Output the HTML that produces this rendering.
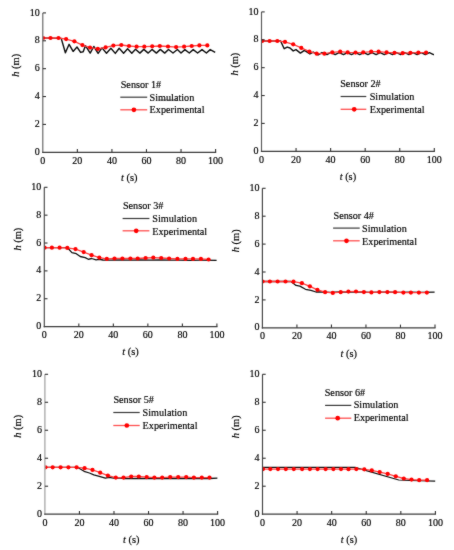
<!DOCTYPE html>
<html><head><meta charset="utf-8"><title>Sensor water depth comparison</title>
<style>
html,body{margin:0;padding:0;background:#fff;}
body{width:454px;height:550px;overflow:hidden;}
svg{display:block;}
text{font-family:"Liberation Serif","Times New Roman",serif;fill:#000;stroke:#000;stroke-width:0.16px;}
.tk{font-size:10px;}
.lg{font-size:10.2px;}
.lb{font-size:10.4px;}
</style></head><body>
<svg width="454" height="550" viewBox="0 0 454 550">
<defs><filter id="soft" x="0" y="0" width="454" height="550" filterUnits="userSpaceOnUse" color-interpolation-filters="sRGB"><feConvolveMatrix order="3" kernelMatrix="1 2 1 2 28 2 1 2 1" edgeMode="duplicate"/></filter></defs>
<g filter="url(#soft)">
<rect width="454" height="550" fill="#fff"/>
<g id="panel1">
<clipPath id="cp1"><rect x="43.25" y="4.9" width="180.8" height="147.4"/></clipPath>
<g clip-path="url(#cp1)">
<polyline fill="none" stroke="#111" stroke-width="1.45" stroke-linejoin="round" points="42.7,38 61.2,38.4 65.4,52.7 69.1,44.3 73.1,51.4 77,47 80.6,52.4 83.2,51.8 85.4,45.7 90.2,53.1 93.8,46.5 98.1,53.4 102,47.9 106.5,53.2 110.9,48.3 115.3,53.4 119.2,48.3 123.6,53.2 127.6,48.8 131.8,53.2 135.5,49.3 139.9,53.1 143.8,49.4 148.2,53.1 152,49.4 156.4,53.1 160.3,49.4 164.7,53.1 168.5,49.5 173,53 177.4,49.5 181,53 184.9,49.6 189.3,53 193.2,49.6 197.6,53 202,49.6 206.4,53 210.2,49.6 215.2,52.3"/>
<polyline fill="none" stroke="#ff4040" stroke-width="1.3" points="43.1,38 50.5,38 58.5,38 66.1,39.1 74.4,41.3 82.4,45.1 90,47.6 97.8,48.9 105.6,47.4 113.4,45.6 121.3,45 129,46 136.6,46.7 144.3,46.7 152.2,46.3 159.8,46 168,46.5 176.1,47.1 184.1,46.7 191.7,46 199.4,45.4 207.3,45.4"/>
<circle cx="43.1" cy="38" r="2.1" fill="#ff0000"/><circle cx="50.5" cy="38" r="2.1" fill="#ff0000"/><circle cx="58.5" cy="38" r="2.1" fill="#ff0000"/><circle cx="66.1" cy="39.1" r="2.1" fill="#ff0000"/><circle cx="74.4" cy="41.3" r="2.1" fill="#ff0000"/><circle cx="82.4" cy="45.1" r="2.1" fill="#ff0000"/><circle cx="90" cy="47.6" r="2.1" fill="#ff0000"/><circle cx="97.8" cy="48.9" r="2.1" fill="#ff0000"/><circle cx="105.6" cy="47.4" r="2.1" fill="#ff0000"/><circle cx="113.4" cy="45.6" r="2.1" fill="#ff0000"/><circle cx="121.3" cy="45" r="2.1" fill="#ff0000"/><circle cx="129" cy="46" r="2.1" fill="#ff0000"/><circle cx="136.6" cy="46.7" r="2.1" fill="#ff0000"/><circle cx="144.3" cy="46.7" r="2.1" fill="#ff0000"/><circle cx="152.2" cy="46.3" r="2.1" fill="#ff0000"/><circle cx="159.8" cy="46" r="2.1" fill="#ff0000"/><circle cx="168" cy="46.5" r="2.1" fill="#ff0000"/><circle cx="176.1" cy="47.1" r="2.1" fill="#ff0000"/><circle cx="184.1" cy="46.7" r="2.1" fill="#ff0000"/><circle cx="191.7" cy="46" r="2.1" fill="#ff0000"/><circle cx="199.4" cy="45.4" r="2.1" fill="#ff0000"/><circle cx="207.3" cy="45.4" r="2.1" fill="#ff0000"/>
</g>
<line x1="42.8" y1="12.9" x2="42.8" y2="153" stroke="#626262" stroke-width="1.15"/>
<line x1="42.2" y1="152.3" x2="216.2" y2="152.3" stroke="#3c3c3c" stroke-width="1.2"/>
<line x1="42.8" y1="124.42" x2="46" y2="124.42" stroke="#333" stroke-width="1.1"/><line x1="42.8" y1="96.54" x2="46" y2="96.54" stroke="#333" stroke-width="1.1"/><line x1="42.8" y1="68.66" x2="46" y2="68.66" stroke="#333" stroke-width="1.1"/><line x1="42.8" y1="40.78" x2="46" y2="40.78" stroke="#333" stroke-width="1.1"/><line x1="42.8" y1="12.9" x2="46" y2="12.9" stroke="#333" stroke-width="1.1"/><line x1="77.36" y1="152.3" x2="77.36" y2="149.1" stroke="#333" stroke-width="1.1"/><line x1="111.92" y1="152.3" x2="111.92" y2="149.1" stroke="#333" stroke-width="1.1"/><line x1="146.48" y1="152.3" x2="146.48" y2="149.1" stroke="#333" stroke-width="1.1"/><line x1="181.04" y1="152.3" x2="181.04" y2="149.1" stroke="#333" stroke-width="1.1"/><line x1="215.6" y1="152.3" x2="215.6" y2="149.1" stroke="#333" stroke-width="1.1"/>
<text class="tk" x="39.8" y="154.9" text-anchor="end">0</text><text class="tk" x="39.8" y="127.02" text-anchor="end">2</text><text class="tk" x="39.8" y="99.14" text-anchor="end">4</text><text class="tk" x="39.8" y="71.26" text-anchor="end">6</text><text class="tk" x="39.8" y="43.38" text-anchor="end">8</text><text class="tk" x="39.8" y="15.5" text-anchor="end">10</text><text class="tk" x="42.8" y="163.7" text-anchor="middle">0</text><text class="tk" x="77.36" y="163.7" text-anchor="middle">20</text><text class="tk" x="111.92" y="163.7" text-anchor="middle">40</text><text class="tk" x="146.48" y="163.7" text-anchor="middle">60</text><text class="tk" x="181.04" y="163.7" text-anchor="middle">80</text><text class="tk" x="215.6" y="163.7" text-anchor="middle">100</text>
<text class="lb" transform="translate(19,65.3) rotate(-90)" text-anchor="middle"><tspan font-style="italic">h</tspan> (m)</text>
<text class="lb" x="129.2" y="181" text-anchor="middle"><tspan font-style="italic">t</tspan> (s)</text>
<text class="lg" x="120.7" y="87.7">Sensor 1#</text>
<line x1="120.3" y1="97.2" x2="147.2" y2="97.2" stroke="#3a3a3a" stroke-width="1.2"/>
<text class="lg" x="149.6" y="100.5">Simulation</text>
<line x1="120.3" y1="109.8" x2="147.2" y2="109.8" stroke="#ff5050" stroke-width="1.3"/>
<circle cx="133.9" cy="109.8" r="2.35" fill="#ff0000"/>
<text class="lg" x="149.6" y="113">Experimental</text>
<line x1="158.6" y1="100" x2="176.5" y2="100" stroke="#333" stroke-width="0.8"/>
</g>
<g id="panel2">
<clipPath id="cp2"><rect x="261.95" y="3.9" width="180.8" height="147.4"/></clipPath>
<g clip-path="url(#cp2)">
<polyline fill="none" stroke="#111" stroke-width="1.45" stroke-linejoin="round" points="261.4,41 280.6,41 284.2,48.7 287.2,47.1 290,48 293.2,50.9 296,49.6 300.4,53.1 304.4,50.4 309.9,53.9 313.2,52.1 318.2,54.8 322,52.6 327,54.6 330.8,52.4 335.2,54.6 339.1,52.6 343.5,54.6 347.4,52.6 351.5,54.6 355.6,52.7 359.7,54.6 363.8,52.7 367.9,54.6 372,52.7 376.1,54.6 380.2,52.7 384.3,54.6 388.4,52.7 392.5,54.6 396.6,52.7 400.7,54.6 404.8,52.7 408.9,54.6 413,52.7 417.1,54.6 421.2,52.7 425.3,54.6 429.4,52.7 433.5,54.6 434,54.5"/>
<polyline fill="none" stroke="#ff4040" stroke-width="1.3" points="262.2,41 269.6,41 277.3,41 285,41.9 293.2,44.3 301.3,47.9 309.4,51.6 316.7,53.7 324.4,53.7 332.3,52.4 340.2,51.7 347.7,52.4 355.5,52.6 363.2,52.4 371.2,51.7 378.6,51.7 386.6,52.4 394.5,52.8 402.7,53.2 410.4,52.8 418.4,52.6 426.1,52.6"/>
<circle cx="262.2" cy="41" r="2.1" fill="#ff0000"/><circle cx="269.6" cy="41" r="2.1" fill="#ff0000"/><circle cx="277.3" cy="41" r="2.1" fill="#ff0000"/><circle cx="285" cy="41.9" r="2.1" fill="#ff0000"/><circle cx="293.2" cy="44.3" r="2.1" fill="#ff0000"/><circle cx="301.3" cy="47.9" r="2.1" fill="#ff0000"/><circle cx="309.4" cy="51.6" r="2.1" fill="#ff0000"/><circle cx="316.7" cy="53.7" r="2.1" fill="#ff0000"/><circle cx="324.4" cy="53.7" r="2.1" fill="#ff0000"/><circle cx="332.3" cy="52.4" r="2.1" fill="#ff0000"/><circle cx="340.2" cy="51.7" r="2.1" fill="#ff0000"/><circle cx="347.7" cy="52.4" r="2.1" fill="#ff0000"/><circle cx="355.5" cy="52.6" r="2.1" fill="#ff0000"/><circle cx="363.2" cy="52.4" r="2.1" fill="#ff0000"/><circle cx="371.2" cy="51.7" r="2.1" fill="#ff0000"/><circle cx="378.6" cy="51.7" r="2.1" fill="#ff0000"/><circle cx="386.6" cy="52.4" r="2.1" fill="#ff0000"/><circle cx="394.5" cy="52.8" r="2.1" fill="#ff0000"/><circle cx="402.7" cy="53.2" r="2.1" fill="#ff0000"/><circle cx="410.4" cy="52.8" r="2.1" fill="#ff0000"/><circle cx="418.4" cy="52.6" r="2.1" fill="#ff0000"/><circle cx="426.1" cy="52.6" r="2.1" fill="#ff0000"/>
</g>
<line x1="261.5" y1="11.9" x2="261.5" y2="152" stroke="#5a5a5a" stroke-width="1.15"/>
<line x1="260.9" y1="151.3" x2="434.9" y2="151.3" stroke="#3c3c3c" stroke-width="1.2"/>
<line x1="261.5" y1="123.42" x2="264.7" y2="123.42" stroke="#333" stroke-width="1.1"/><line x1="261.5" y1="95.54" x2="264.7" y2="95.54" stroke="#333" stroke-width="1.1"/><line x1="261.5" y1="67.66" x2="264.7" y2="67.66" stroke="#333" stroke-width="1.1"/><line x1="261.5" y1="39.78" x2="264.7" y2="39.78" stroke="#333" stroke-width="1.1"/><line x1="261.5" y1="11.9" x2="264.7" y2="11.9" stroke="#333" stroke-width="1.1"/><line x1="296.06" y1="151.3" x2="296.06" y2="148.1" stroke="#333" stroke-width="1.1"/><line x1="330.62" y1="151.3" x2="330.62" y2="148.1" stroke="#333" stroke-width="1.1"/><line x1="365.18" y1="151.3" x2="365.18" y2="148.1" stroke="#333" stroke-width="1.1"/><line x1="399.74" y1="151.3" x2="399.74" y2="148.1" stroke="#333" stroke-width="1.1"/><line x1="434.3" y1="151.3" x2="434.3" y2="148.1" stroke="#333" stroke-width="1.1"/>
<text class="tk" x="258.5" y="153.9" text-anchor="end">0</text><text class="tk" x="258.5" y="126.02" text-anchor="end">2</text><text class="tk" x="258.5" y="98.14" text-anchor="end">4</text><text class="tk" x="258.5" y="70.26" text-anchor="end">6</text><text class="tk" x="258.5" y="42.38" text-anchor="end">8</text><text class="tk" x="258.5" y="14.5" text-anchor="end">10</text><text class="tk" x="261.5" y="162.7" text-anchor="middle">0</text><text class="tk" x="296.06" y="162.7" text-anchor="middle">20</text><text class="tk" x="330.62" y="162.7" text-anchor="middle">40</text><text class="tk" x="365.18" y="162.7" text-anchor="middle">60</text><text class="tk" x="399.74" y="162.7" text-anchor="middle">80</text><text class="tk" x="434.3" y="162.7" text-anchor="middle">100</text>
<text class="lb" transform="translate(238.1,64.2) rotate(-90)" text-anchor="middle"><tspan font-style="italic">h</tspan> (m)</text>
<text class="lb" x="347.9" y="180" text-anchor="middle"><tspan font-style="italic">t</tspan> (s)</text>
<text class="lg" x="340.2" y="86.9">Sensor 2#</text>
<line x1="340.6" y1="96.5" x2="366.3" y2="96.5" stroke="#3a3a3a" stroke-width="1.2"/>
<text class="lg" x="369.7" y="100">Simulation</text>
<line x1="340.6" y1="109.3" x2="366.3" y2="109.3" stroke="#ff5050" stroke-width="1.3"/>
<circle cx="354.2" cy="109.3" r="2.35" fill="#ff0000"/>
<text class="lg" x="369.7" y="112.5">Experimental</text>
</g>
<g id="panel3">
<clipPath id="cp3"><rect x="44.75" y="179.3" width="180.6" height="147.3"/></clipPath>
<g clip-path="url(#cp3)">
<polyline fill="none" stroke="#111" stroke-width="1.3" stroke-linejoin="round" points="44.2,247.7 67.5,247.7 71.9,252.6 76.3,253.7 80.2,256.5 85.2,257.6 88.3,259.3 91.6,258.5 96,259.8 99.3,259.3 103,260 110,260.1 120,259.8 130,260.1 140,259.9 150,260.1 160,259.9 170,260.2 180,260.1 190,260.3 200,260.2 216.6,260.4"/>
<polyline fill="none" stroke="#ff4040" stroke-width="1.3" points="44.6,247.7 51.9,247.7 59.6,247.7 67.3,247.9 75.5,249.1 83.7,252.1 91.6,255.2 99.3,257.6 106.8,258.9 114.5,258.5 122.4,258.5 130.4,258.5 137.7,258.5 145.6,258 153.3,257.6 161.2,258 169.1,258.5 177.4,258.9 185.5,258.9 193,258.9 200.9,258.9 208.6,259.5"/>
<circle cx="44.6" cy="247.7" r="2.1" fill="#ff0000"/><circle cx="51.9" cy="247.7" r="2.1" fill="#ff0000"/><circle cx="59.6" cy="247.7" r="2.1" fill="#ff0000"/><circle cx="67.3" cy="247.9" r="2.1" fill="#ff0000"/><circle cx="75.5" cy="249.1" r="2.1" fill="#ff0000"/><circle cx="83.7" cy="252.1" r="2.1" fill="#ff0000"/><circle cx="91.6" cy="255.2" r="2.1" fill="#ff0000"/><circle cx="99.3" cy="257.6" r="2.1" fill="#ff0000"/><circle cx="106.8" cy="258.9" r="2.1" fill="#ff0000"/><circle cx="114.5" cy="258.5" r="2.1" fill="#ff0000"/><circle cx="122.4" cy="258.5" r="2.1" fill="#ff0000"/><circle cx="130.4" cy="258.5" r="2.1" fill="#ff0000"/><circle cx="137.7" cy="258.5" r="2.1" fill="#ff0000"/><circle cx="145.6" cy="258" r="2.1" fill="#ff0000"/><circle cx="153.3" cy="257.6" r="2.1" fill="#ff0000"/><circle cx="161.2" cy="258" r="2.1" fill="#ff0000"/><circle cx="169.1" cy="258.5" r="2.1" fill="#ff0000"/><circle cx="177.4" cy="258.9" r="2.1" fill="#ff0000"/><circle cx="185.5" cy="258.9" r="2.1" fill="#ff0000"/><circle cx="193" cy="258.9" r="2.1" fill="#ff0000"/><circle cx="200.9" cy="258.9" r="2.1" fill="#ff0000"/><circle cx="208.6" cy="259.5" r="2.1" fill="#ff0000"/>
</g>
<line x1="44.3" y1="187.3" x2="44.3" y2="327.3" stroke="#484848" stroke-width="1.15"/>
<line x1="43.7" y1="326.6" x2="217.5" y2="326.6" stroke="#3c3c3c" stroke-width="1.2"/>
<line x1="44.3" y1="298.74" x2="47.5" y2="298.74" stroke="#333" stroke-width="1.1"/><line x1="44.3" y1="270.88" x2="47.5" y2="270.88" stroke="#333" stroke-width="1.1"/><line x1="44.3" y1="243.02" x2="47.5" y2="243.02" stroke="#333" stroke-width="1.1"/><line x1="44.3" y1="215.16" x2="47.5" y2="215.16" stroke="#333" stroke-width="1.1"/><line x1="44.3" y1="187.3" x2="47.5" y2="187.3" stroke="#333" stroke-width="1.1"/><line x1="78.82" y1="326.6" x2="78.82" y2="323.4" stroke="#333" stroke-width="1.1"/><line x1="113.34" y1="326.6" x2="113.34" y2="323.4" stroke="#333" stroke-width="1.1"/><line x1="147.86" y1="326.6" x2="147.86" y2="323.4" stroke="#333" stroke-width="1.1"/><line x1="182.38" y1="326.6" x2="182.38" y2="323.4" stroke="#333" stroke-width="1.1"/><line x1="216.9" y1="326.6" x2="216.9" y2="323.4" stroke="#333" stroke-width="1.1"/>
<text class="tk" x="41.3" y="329.2" text-anchor="end">0</text><text class="tk" x="41.3" y="301.34" text-anchor="end">2</text><text class="tk" x="41.3" y="273.48" text-anchor="end">4</text><text class="tk" x="41.3" y="245.62" text-anchor="end">6</text><text class="tk" x="41.3" y="217.76" text-anchor="end">8</text><text class="tk" x="41.3" y="189.9" text-anchor="end">10</text><text class="tk" x="44.3" y="338" text-anchor="middle">0</text><text class="tk" x="78.82" y="338" text-anchor="middle">20</text><text class="tk" x="113.34" y="338" text-anchor="middle">40</text><text class="tk" x="147.86" y="338" text-anchor="middle">60</text><text class="tk" x="182.38" y="338" text-anchor="middle">80</text><text class="tk" x="216.9" y="338" text-anchor="middle">100</text>
<text class="lb" transform="translate(21,239.1) rotate(-90)" text-anchor="middle"><tspan font-style="italic">h</tspan> (m)</text>
<text class="lb" x="130.6" y="355.3" text-anchor="middle"><tspan font-style="italic">t</tspan> (s)</text>
<text class="lg" x="122.9" y="209">Sensor 3#</text>
<line x1="122.6" y1="218.5" x2="149.4" y2="218.5" stroke="#3a3a3a" stroke-width="1.2"/>
<text class="lg" x="152.3" y="221.7">Simulation</text>
<line x1="122.6" y1="230.8" x2="149.4" y2="230.8" stroke="#ff5050" stroke-width="1.3"/>
<circle cx="136.2" cy="230.8" r="2.35" fill="#ff0000"/>
<text class="lg" x="152.3" y="234.6">Experimental</text>
</g>
<g id="panel4">
<clipPath id="cp4"><rect x="262.85" y="180.3" width="180.6" height="147.5"/></clipPath>
<g clip-path="url(#cp4)">
<polyline fill="none" stroke="#111" stroke-width="1.3" stroke-linejoin="round" points="262.4,281.5 291,281.5 296,285.4 299.9,286.1 305.5,289.3 311,290.4 316,292 322,291.8 330,292.3 340,292 350,292.2 360,292 370,292.3 380,292.1 390,292.2 400,292.3 410,292.2 420,292.3 434.6,292.1"/>
<polyline fill="none" stroke="#ff4040" stroke-width="1.3" points="262.6,281.5 269.9,281.5 277.6,281.5 285.5,281.5 293.5,281.7 301.9,283.2 309.9,286.3 317.4,289.8 325.1,292.2 332.8,292.9 340.7,292.2 348.4,291.6 356,291.5 363.9,292.1 371.4,292.4 379.4,292.1 387.4,292.1 395.1,292.2 403.4,292.6 410.9,292.6 418.9,292.6 426.9,292.6"/>
<circle cx="262.6" cy="281.5" r="2.1" fill="#ff0000"/><circle cx="269.9" cy="281.5" r="2.1" fill="#ff0000"/><circle cx="277.6" cy="281.5" r="2.1" fill="#ff0000"/><circle cx="285.5" cy="281.5" r="2.1" fill="#ff0000"/><circle cx="293.5" cy="281.7" r="2.1" fill="#ff0000"/><circle cx="301.9" cy="283.2" r="2.1" fill="#ff0000"/><circle cx="309.9" cy="286.3" r="2.1" fill="#ff0000"/><circle cx="317.4" cy="289.8" r="2.1" fill="#ff0000"/><circle cx="325.1" cy="292.2" r="2.1" fill="#ff0000"/><circle cx="332.8" cy="292.9" r="2.1" fill="#ff0000"/><circle cx="340.7" cy="292.2" r="2.1" fill="#ff0000"/><circle cx="348.4" cy="291.6" r="2.1" fill="#ff0000"/><circle cx="356" cy="291.5" r="2.1" fill="#ff0000"/><circle cx="363.9" cy="292.1" r="2.1" fill="#ff0000"/><circle cx="371.4" cy="292.4" r="2.1" fill="#ff0000"/><circle cx="379.4" cy="292.1" r="2.1" fill="#ff0000"/><circle cx="387.4" cy="292.1" r="2.1" fill="#ff0000"/><circle cx="395.1" cy="292.2" r="2.1" fill="#ff0000"/><circle cx="403.4" cy="292.6" r="2.1" fill="#ff0000"/><circle cx="410.9" cy="292.6" r="2.1" fill="#ff0000"/><circle cx="418.9" cy="292.6" r="2.1" fill="#ff0000"/><circle cx="426.9" cy="292.6" r="2.1" fill="#ff0000"/>
</g>
<line x1="262.4" y1="188.3" x2="262.4" y2="328.5" stroke="#424242" stroke-width="1.15"/>
<line x1="261.8" y1="327.8" x2="435.6" y2="327.8" stroke="#3c3c3c" stroke-width="1.2"/>
<line x1="262.4" y1="299.9" x2="265.6" y2="299.9" stroke="#333" stroke-width="1.1"/><line x1="262.4" y1="272" x2="265.6" y2="272" stroke="#333" stroke-width="1.1"/><line x1="262.4" y1="244.1" x2="265.6" y2="244.1" stroke="#333" stroke-width="1.1"/><line x1="262.4" y1="216.2" x2="265.6" y2="216.2" stroke="#333" stroke-width="1.1"/><line x1="262.4" y1="188.3" x2="265.6" y2="188.3" stroke="#333" stroke-width="1.1"/><line x1="296.92" y1="327.8" x2="296.92" y2="324.6" stroke="#333" stroke-width="1.1"/><line x1="331.44" y1="327.8" x2="331.44" y2="324.6" stroke="#333" stroke-width="1.1"/><line x1="365.96" y1="327.8" x2="365.96" y2="324.6" stroke="#333" stroke-width="1.1"/><line x1="400.48" y1="327.8" x2="400.48" y2="324.6" stroke="#333" stroke-width="1.1"/><line x1="435" y1="327.8" x2="435" y2="324.6" stroke="#333" stroke-width="1.1"/>
<text class="tk" x="259.4" y="330.4" text-anchor="end">0</text><text class="tk" x="259.4" y="302.5" text-anchor="end">2</text><text class="tk" x="259.4" y="274.6" text-anchor="end">4</text><text class="tk" x="259.4" y="246.7" text-anchor="end">6</text><text class="tk" x="259.4" y="218.8" text-anchor="end">8</text><text class="tk" x="259.4" y="190.9" text-anchor="end">10</text><text class="tk" x="262.4" y="339.2" text-anchor="middle">0</text><text class="tk" x="296.92" y="339.2" text-anchor="middle">20</text><text class="tk" x="331.44" y="339.2" text-anchor="middle">40</text><text class="tk" x="365.96" y="339.2" text-anchor="middle">60</text><text class="tk" x="400.48" y="339.2" text-anchor="middle">80</text><text class="tk" x="435" y="339.2" text-anchor="middle">100</text>
<text class="lb" transform="translate(238.7,240.8) rotate(-90)" text-anchor="middle"><tspan font-style="italic">h</tspan> (m)</text>
<text class="lb" x="348.7" y="356.5" text-anchor="middle"><tspan font-style="italic">t</tspan> (s)</text>
<text class="lg" x="333.5" y="219.1">Sensor 4#</text>
<line x1="333.1" y1="228.1" x2="359.7" y2="228.1" stroke="#3a3a3a" stroke-width="1.2"/>
<text class="lg" x="362.1" y="231.8">Simulation</text>
<line x1="333.1" y1="240.8" x2="359.7" y2="240.8" stroke="#ff5050" stroke-width="1.3"/>
<circle cx="346.5" cy="240.8" r="2.35" fill="#ff0000"/>
<text class="lg" x="362.1" y="244.7">Experimental</text>
</g>
<g id="panel5">
<clipPath id="cp5"><rect x="45.35" y="366.3" width="180.7" height="147.9"/></clipPath>
<g clip-path="url(#cp5)">
<polyline fill="none" stroke="#111" stroke-width="1.3" stroke-linejoin="round" points="44.9,467.3 77.4,467.3 80.7,469.3 84.1,471.3 89.4,473 93.8,474.9 99.3,476.3 105.4,478.2 109.2,477.4 113.6,478.2 120,478 125,478.6 130.2,478.6 140,478.3 150,478.6 160,478.3 170,478.5 180,478.3 190,478.6 200,478.3 210,478.5 217.4,478.2"/>
<polyline fill="none" stroke="#ff4040" stroke-width="1.3" points="45.5,467.3 52.7,467.3 60.6,467.3 68.4,467.3 76.6,467.3 84.6,468.2 92.5,469.9 100.2,472.7 107.9,475.6 115.8,477.6 123.5,477.6 131.2,476.5 138.8,476.5 146.7,477.1 154.4,477.6 162.2,477.6 170.2,477.1 178.2,477.1 186.2,477.1 193.9,477.6 201.8,477.6 209.5,477.6"/>
<circle cx="45.5" cy="467.3" r="2.1" fill="#ff0000"/><circle cx="52.7" cy="467.3" r="2.1" fill="#ff0000"/><circle cx="60.6" cy="467.3" r="2.1" fill="#ff0000"/><circle cx="68.4" cy="467.3" r="2.1" fill="#ff0000"/><circle cx="76.6" cy="467.3" r="2.1" fill="#ff0000"/><circle cx="84.6" cy="468.2" r="2.1" fill="#ff0000"/><circle cx="92.5" cy="469.9" r="2.1" fill="#ff0000"/><circle cx="100.2" cy="472.7" r="2.1" fill="#ff0000"/><circle cx="107.9" cy="475.6" r="2.1" fill="#ff0000"/><circle cx="115.8" cy="477.6" r="2.1" fill="#ff0000"/><circle cx="123.5" cy="477.6" r="2.1" fill="#ff0000"/><circle cx="131.2" cy="476.5" r="2.1" fill="#ff0000"/><circle cx="138.8" cy="476.5" r="2.1" fill="#ff0000"/><circle cx="146.7" cy="477.1" r="2.1" fill="#ff0000"/><circle cx="154.4" cy="477.6" r="2.1" fill="#ff0000"/><circle cx="162.2" cy="477.6" r="2.1" fill="#ff0000"/><circle cx="170.2" cy="477.1" r="2.1" fill="#ff0000"/><circle cx="178.2" cy="477.1" r="2.1" fill="#ff0000"/><circle cx="186.2" cy="477.1" r="2.1" fill="#ff0000"/><circle cx="193.9" cy="477.6" r="2.1" fill="#ff0000"/><circle cx="201.8" cy="477.6" r="2.1" fill="#ff0000"/><circle cx="209.5" cy="477.6" r="2.1" fill="#ff0000"/>
</g>
<line x1="44.9" y1="374.3" x2="44.9" y2="514.9" stroke="#9a9a9a" stroke-width="1.15"/>
<line x1="44.3" y1="514.2" x2="218.2" y2="514.2" stroke="#3c3c3c" stroke-width="1.2"/>
<line x1="44.9" y1="486.22" x2="48.1" y2="486.22" stroke="#333" stroke-width="1.1"/><line x1="44.9" y1="458.24" x2="48.1" y2="458.24" stroke="#333" stroke-width="1.1"/><line x1="44.9" y1="430.26" x2="48.1" y2="430.26" stroke="#333" stroke-width="1.1"/><line x1="44.9" y1="402.28" x2="48.1" y2="402.28" stroke="#333" stroke-width="1.1"/><line x1="44.9" y1="374.3" x2="48.1" y2="374.3" stroke="#333" stroke-width="1.1"/><line x1="79.44" y1="514.2" x2="79.44" y2="511" stroke="#333" stroke-width="1.1"/><line x1="113.98" y1="514.2" x2="113.98" y2="511" stroke="#333" stroke-width="1.1"/><line x1="148.52" y1="514.2" x2="148.52" y2="511" stroke="#333" stroke-width="1.1"/><line x1="183.06" y1="514.2" x2="183.06" y2="511" stroke="#333" stroke-width="1.1"/><line x1="217.6" y1="514.2" x2="217.6" y2="511" stroke="#333" stroke-width="1.1"/>
<text class="tk" x="41.9" y="516.8" text-anchor="end">0</text><text class="tk" x="41.9" y="488.82" text-anchor="end">2</text><text class="tk" x="41.9" y="460.84" text-anchor="end">4</text><text class="tk" x="41.9" y="432.86" text-anchor="end">6</text><text class="tk" x="41.9" y="404.88" text-anchor="end">8</text><text class="tk" x="41.9" y="376.9" text-anchor="end">10</text><text class="tk" x="44.9" y="525.6" text-anchor="middle">0</text><text class="tk" x="79.44" y="525.6" text-anchor="middle">20</text><text class="tk" x="113.98" y="525.6" text-anchor="middle">40</text><text class="tk" x="148.52" y="525.6" text-anchor="middle">60</text><text class="tk" x="183.06" y="525.6" text-anchor="middle">80</text><text class="tk" x="217.6" y="525.6" text-anchor="middle">100</text>
<text class="lb" transform="translate(20.8,426.3) rotate(-90)" text-anchor="middle"><tspan font-style="italic">h</tspan> (m)</text>
<text class="lb" x="131.25" y="542.9" text-anchor="middle"><tspan font-style="italic">t</tspan> (s)</text>
<text class="lg" x="113.4" y="403.4">Sensor 5#</text>
<line x1="113.3" y1="412.5" x2="139.7" y2="412.5" stroke="#3a3a3a" stroke-width="1.2"/>
<text class="lg" x="142.6" y="416">Simulation</text>
<line x1="113.3" y1="425.5" x2="139.7" y2="425.5" stroke="#ff5050" stroke-width="1.3"/>
<circle cx="126.8" cy="425.5" r="2.35" fill="#ff0000"/>
<text class="lg" x="142.6" y="428.9">Experimental</text>
</g>
<g id="panel6">
<clipPath id="cp6"><rect x="262.95" y="366.3" width="180.9" height="147.9"/></clipPath>
<g clip-path="url(#cp6)">
<polyline fill="none" stroke="#111" stroke-width="1.15" stroke-linejoin="round" points="262.5,467.4 355,467.4 398.8,480 410,480.5 420,480.8 435.2,481.1"/>
<polyline fill="none" stroke="#ff4040" stroke-width="1.3" points="263,469.1 270.3,469.1 278,469.1 285.8,469.1 293.8,469.1 302.1,469.1 309.9,469.1 317.6,469.1 325.6,469.1 333.4,469.1 341,469.1 348.5,469.2 356.3,469.1 364.3,469.3 371.8,470.4 379.7,472.1 387.7,473.9 395.8,476.3 403.8,478.5 411.5,479.6 419.2,480.2 427.1,480.2"/>
<circle cx="263" cy="469.1" r="2.1" fill="#ff0000"/><circle cx="270.3" cy="469.1" r="2.1" fill="#ff0000"/><circle cx="278" cy="469.1" r="2.1" fill="#ff0000"/><circle cx="285.8" cy="469.1" r="2.1" fill="#ff0000"/><circle cx="293.8" cy="469.1" r="2.1" fill="#ff0000"/><circle cx="302.1" cy="469.1" r="2.1" fill="#ff0000"/><circle cx="309.9" cy="469.1" r="2.1" fill="#ff0000"/><circle cx="317.6" cy="469.1" r="2.1" fill="#ff0000"/><circle cx="325.6" cy="469.1" r="2.1" fill="#ff0000"/><circle cx="333.4" cy="469.1" r="2.1" fill="#ff0000"/><circle cx="341" cy="469.1" r="2.1" fill="#ff0000"/><circle cx="348.5" cy="469.2" r="2.1" fill="#ff0000"/><circle cx="356.3" cy="469.1" r="2.1" fill="#ff0000"/><circle cx="364.3" cy="469.3" r="2.1" fill="#ff0000"/><circle cx="371.8" cy="470.4" r="2.1" fill="#ff0000"/><circle cx="379.7" cy="472.1" r="2.1" fill="#ff0000"/><circle cx="387.7" cy="473.9" r="2.1" fill="#ff0000"/><circle cx="395.8" cy="476.3" r="2.1" fill="#ff0000"/><circle cx="403.8" cy="478.5" r="2.1" fill="#ff0000"/><circle cx="411.5" cy="479.6" r="2.1" fill="#ff0000"/><circle cx="419.2" cy="480.2" r="2.1" fill="#ff0000"/><circle cx="427.1" cy="480.2" r="2.1" fill="#ff0000"/>
</g>
<line x1="262.5" y1="374.3" x2="262.5" y2="514.9" stroke="#444444" stroke-width="1.15"/>
<line x1="261.9" y1="514.2" x2="436" y2="514.2" stroke="#3c3c3c" stroke-width="1.2"/>
<line x1="262.5" y1="486.22" x2="265.7" y2="486.22" stroke="#333" stroke-width="1.1"/><line x1="262.5" y1="458.24" x2="265.7" y2="458.24" stroke="#333" stroke-width="1.1"/><line x1="262.5" y1="430.26" x2="265.7" y2="430.26" stroke="#333" stroke-width="1.1"/><line x1="262.5" y1="402.28" x2="265.7" y2="402.28" stroke="#333" stroke-width="1.1"/><line x1="262.5" y1="374.3" x2="265.7" y2="374.3" stroke="#333" stroke-width="1.1"/><line x1="297.08" y1="514.2" x2="297.08" y2="511" stroke="#333" stroke-width="1.1"/><line x1="331.66" y1="514.2" x2="331.66" y2="511" stroke="#333" stroke-width="1.1"/><line x1="366.24" y1="514.2" x2="366.24" y2="511" stroke="#333" stroke-width="1.1"/><line x1="400.82" y1="514.2" x2="400.82" y2="511" stroke="#333" stroke-width="1.1"/><line x1="435.4" y1="514.2" x2="435.4" y2="511" stroke="#333" stroke-width="1.1"/>
<text class="tk" x="259.5" y="516.8" text-anchor="end">0</text><text class="tk" x="259.5" y="488.82" text-anchor="end">2</text><text class="tk" x="259.5" y="460.84" text-anchor="end">4</text><text class="tk" x="259.5" y="432.86" text-anchor="end">6</text><text class="tk" x="259.5" y="404.88" text-anchor="end">8</text><text class="tk" x="259.5" y="376.9" text-anchor="end">10</text><text class="tk" x="262.5" y="525.6" text-anchor="middle">0</text><text class="tk" x="297.08" y="525.6" text-anchor="middle">20</text><text class="tk" x="331.66" y="525.6" text-anchor="middle">40</text><text class="tk" x="366.24" y="525.6" text-anchor="middle">60</text><text class="tk" x="400.82" y="525.6" text-anchor="middle">80</text><text class="tk" x="435.4" y="525.6" text-anchor="middle">100</text>
<text class="lb" transform="translate(239.4,426.8) rotate(-90)" text-anchor="middle"><tspan font-style="italic">h</tspan> (m)</text>
<text class="lb" x="348.95" y="542.9" text-anchor="middle"><tspan font-style="italic">t</tspan> (s)</text>
<text class="lg" x="324.7" y="395.9">Sensor 6#</text>
<line x1="325.1" y1="405.4" x2="351.3" y2="405.4" stroke="#3a3a3a" stroke-width="1.2"/>
<text class="lg" x="353.7" y="408.4">Simulation</text>
<line x1="325.1" y1="418.2" x2="351.3" y2="418.2" stroke="#ff5050" stroke-width="1.3"/>
<circle cx="337.7" cy="418.2" r="2.35" fill="#ff0000"/>
<text class="lg" x="353.7" y="421.3">Experimental</text>
</g>
</g>
</svg>
</body></html>
